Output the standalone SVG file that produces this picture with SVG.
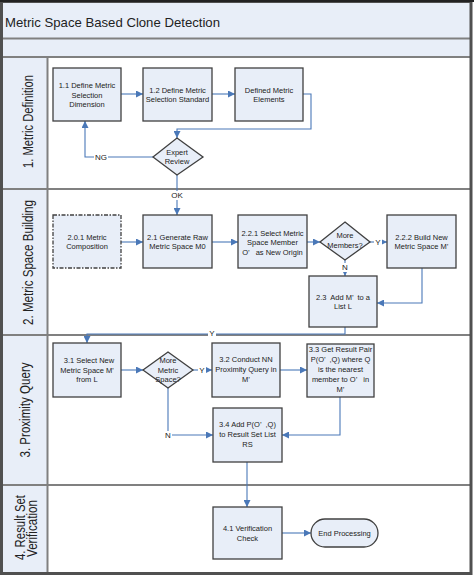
<svg xmlns="http://www.w3.org/2000/svg" width="474" height="576" viewBox="0 0 474 576">
<defs>
<marker id="arr" viewBox="0 0 8 8" refX="8" refY="4" markerWidth="7" markerHeight="7" markerUnits="userSpaceOnUse" orient="auto">
<path d="M0,0 L8,4 L0,8 z" fill="#4a78b8"/>
</marker>
</defs>
<style>
.band{fill:#e8eef8;stroke:none}
.sep{stroke:#808080;stroke-width:2;fill:none}
.node{fill:#e8eef8;stroke:#404040;stroke-width:1.3}
.t{font-family:"Liberation Sans",Arial,sans-serif;font-size:7.5px;fill:#222;text-anchor:middle;white-space:pre}
.lab{font-family:"Liberation Sans",Arial,sans-serif;font-size:8px;fill:#222;text-anchor:middle;dominant-baseline:central}
.lane{font-family:"Liberation Sans",Arial,sans-serif;font-size:14px;fill:#222;text-anchor:middle}
.c{fill:none;stroke:#4a78b8;stroke-width:1.1;marker-end:url(#arr)}
.lbg{fill:#ffffff}
</style>
<rect x="0" y="0" width="474" height="576" fill="#ffffff"/>
<g id="frame">
<rect class="band" x="2" y="2" width="469" height="36"/>
<rect class="band" x="2" y="39" width="469" height="18"/>
<rect class="band" x="2" y="57" width="45" height="516"/>
<line class="sep" x1="2" y1="38.5" x2="471" y2="38.5" stroke-width="1.5"/>
<line class="sep" x1="2" y1="57" x2="471" y2="57"/>
<line class="sep" x1="2" y1="189" x2="471" y2="189"/>
<line class="sep" x1="2" y1="335" x2="471" y2="335"/>
<line class="sep" x1="2" y1="485" x2="471" y2="485"/>
<line class="sep" x1="47.5" y1="57" x2="47.5" y2="573" stroke-width="1.5"/>
<rect x="1.5" y="1.5" width="469.5" height="572" fill="none" stroke="#505050" stroke-width="3"/>
<line x1="0" y1="1" x2="474" y2="1" stroke="#222" stroke-width="2"/>
<text x="5" y="27" font-family="'Liberation Sans',Arial,sans-serif" font-size="13.5" fill="#222" textLength="215" lengthAdjust="spacingAndGlyphs">Metric Space Based Clone Detection</text>
</g>
<g id="lanes">
<text class="lane" transform="translate(32.5,121.5) rotate(-90)" textLength="93" lengthAdjust="spacingAndGlyphs">1. Metric Definition</text>
<text class="lane" transform="translate(33,262.5) rotate(-90)" textLength="125" lengthAdjust="spacingAndGlyphs">2. Metric Space Building</text>
<text class="lane" transform="translate(30,410) rotate(-90)" textLength="95" lengthAdjust="spacingAndGlyphs">3. Proximity Query</text>
<text class="lane" transform="translate(25,527.5) rotate(-90)" textLength="65" lengthAdjust="spacingAndGlyphs">4. Result Set</text>
<text class="lane" transform="translate(37,528.5) rotate(-90)" textLength="57" lengthAdjust="spacingAndGlyphs">Verification</text>
</g>
<g id="connectors">
<path class="c" d="M121,94 H143"/>
<path class="c" d="M212,94 H235"/>
<path class="c" d="M303,94 H311 V129 H177 V138"/>
<path class="c" d="M153,157 H85 V121"/>
<path class="c" d="M177,175 V215"/>
<path class="c" d="M121,242 H143"/>
<path class="c" d="M212,242 H238"/>
<path class="c" d="M307,242 H320"/>
<path class="c" d="M370,242 H387"/>
<path class="c" d="M345,260 V276"/>
<path class="c" d="M422,268 V303 H377"/>
<path class="c" d="M345,327 V334 H87 V343"/>
<path class="c" d="M121,370 H143"/>
<path class="c" d="M193,370 H212"/>
<path class="c" d="M280,370 H307"/>
<path class="c" d="M340,397 V435 H282"/>
<path class="c" d="M168,388 V435 H213"/>
<path class="c" d="M247,462 V507"/>
<path class="c" d="M282,533 H311"/>
<rect class="lbg" x="94" y="152" width="14" height="10"/>
<text class="lab" x="101" y="157">NG</text>
<rect class="lbg" x="171" y="191" width="12" height="9"/>
<text class="lab" x="177" y="195">OK</text>
<rect class="lbg" x="374" y="238" width="8" height="9"/>
<text class="lab" x="378" y="242">Y</text>
<rect class="lbg" x="341" y="263" width="8" height="9"/>
<text class="lab" x="345" y="267.5">N</text>
<rect class="lbg" x="208" y="329" width="8" height="9"/>
<text class="lab" x="212" y="333">Y</text>
<rect class="lbg" x="198" y="366" width="8" height="9"/>
<text class="lab" x="202" y="370">Y</text>
<rect class="lbg" x="164" y="431" width="8" height="9"/>
<text class="lab" x="168" y="435.5">N</text>
</g>
<g id="n11"><rect class="node" x="53" y="68" width="68" height="53"/>
<text class="t" x="87" y="88">1.1 Define Metric</text><text class="t" x="87" y="97.5">Selection</text><text class="t" x="87" y="107">Dimension</text></g>
<g id="n12"><rect class="node" x="143" y="68" width="69" height="53"/>
<text class="t" x="177.5" y="92.5">1.2 Define Metric</text><text class="t" x="177.5" y="101.5">Selection Standard</text></g>
<g id="ndme"><rect class="node" x="235" y="68" width="68" height="53"/>
<text class="t" x="269" y="92.5">Defined Metric</text><text class="t" x="269" y="101.5">Elements</text></g>
<g id="dexpert"><polygon class="node" points="177,138 203,157 177,175 153,157"/>
<text class="t" x="177" y="154.5">Expert</text><text class="t" x="177" y="163.5">Review</text></g>
<g id="n201"><rect class="node" x="53" y="215" width="68" height="53" stroke-dasharray="4 1.5 1.5 1.5"/>
<text class="t" x="87" y="240">2.0.1 Metric</text><text class="t" x="87" y="249">Composition</text></g>
<g id="n21"><rect class="node" x="143" y="215" width="69" height="53"/>
<text class="t" x="177.5" y="240">2.1 Generate Raw</text><text class="t" x="177.5" y="249">Metric Space M0</text></g>
<g id="n221"><rect class="node" x="238" y="215" width="69" height="53"/>
<text class="t" x="272.5" y="235.5">2.2.1 Select Metric</text><text class="t" x="272.5" y="245">Space Member</text><text class="t" x="272.5" y="254.5">O’   as New Origin</text></g>
<g id="dmembers"><polygon class="node" points="345,222 370,242 345,260 320,242"/>
<text class="t" x="345" y="238">More</text><text class="t" x="345" y="247.5">Members?</text></g>
<g id="n222"><rect class="node" x="387" y="215" width="69" height="53"/>
<text class="t" x="421.5" y="240">2.2.2 Build New</text><text class="t" x="421.5" y="249">Metric Space M’</text></g>
<g id="n23"><rect class="node" x="309" y="276" width="68" height="51"/>
<text class="t" x="343" y="300">2.3  Add M’  to a</text><text class="t" x="343" y="309">List L</text></g>
<g id="n31"><rect class="node" x="53" y="343" width="68" height="54"/>
<text class="t" x="89" y="363">3.1 Select New</text><text class="t" x="87" y="372.5">Metric Space M'</text><text class="t" x="87" y="382">from L</text></g>
<g id="dmetric"><polygon class="node" points="168,352 193,370 168,388 143,370"/>
<text class="t" x="168" y="363">More</text><text class="t" x="168" y="372.5">Metric</text><text class="t" x="168" y="382">Space?</text></g>
<g id="n32"><rect class="node" x="212" y="343" width="68" height="54"/>
<text class="t" x="246" y="362">3.2 Conduct NN</text><text class="t" x="246" y="372">Proximity Query in</text><text class="t" x="246" y="382">M’</text></g>
<g id="n33"><rect class="node" x="307" y="344" width="67" height="53"/>
<text class="t" x="340.5" y="352">3.3 Get Result Pair</text><text class="t" x="340.5" y="362">P(O’  ,Q) where Q</text><text class="t" x="340.5" y="372">is the nearest</text><text class="t" x="340.5" y="382">member to O’   in</text><text class="t" x="340.5" y="392">M’</text></g>
<g id="n34"><rect class="node" x="213" y="408" width="69" height="54"/>
<text class="t" x="247.5" y="427">3.4 Add P(O’  ,Q)</text><text class="t" x="247.5" y="437">to Result Set List</text><text class="t" x="247.5" y="447">RS</text></g>
<g id="n41"><rect class="node" x="213" y="507" width="69" height="52"/>
<text class="t" x="247.5" y="531">4.1 Verification</text><text class="t" x="247.5" y="540.5">Check</text></g>
<g id="nend"><rect class="node" x="311" y="519" width="67" height="28" rx="14" ry="14"/>
<text class="t" x="344.5" y="536">End Processing</text></g>
</svg>
